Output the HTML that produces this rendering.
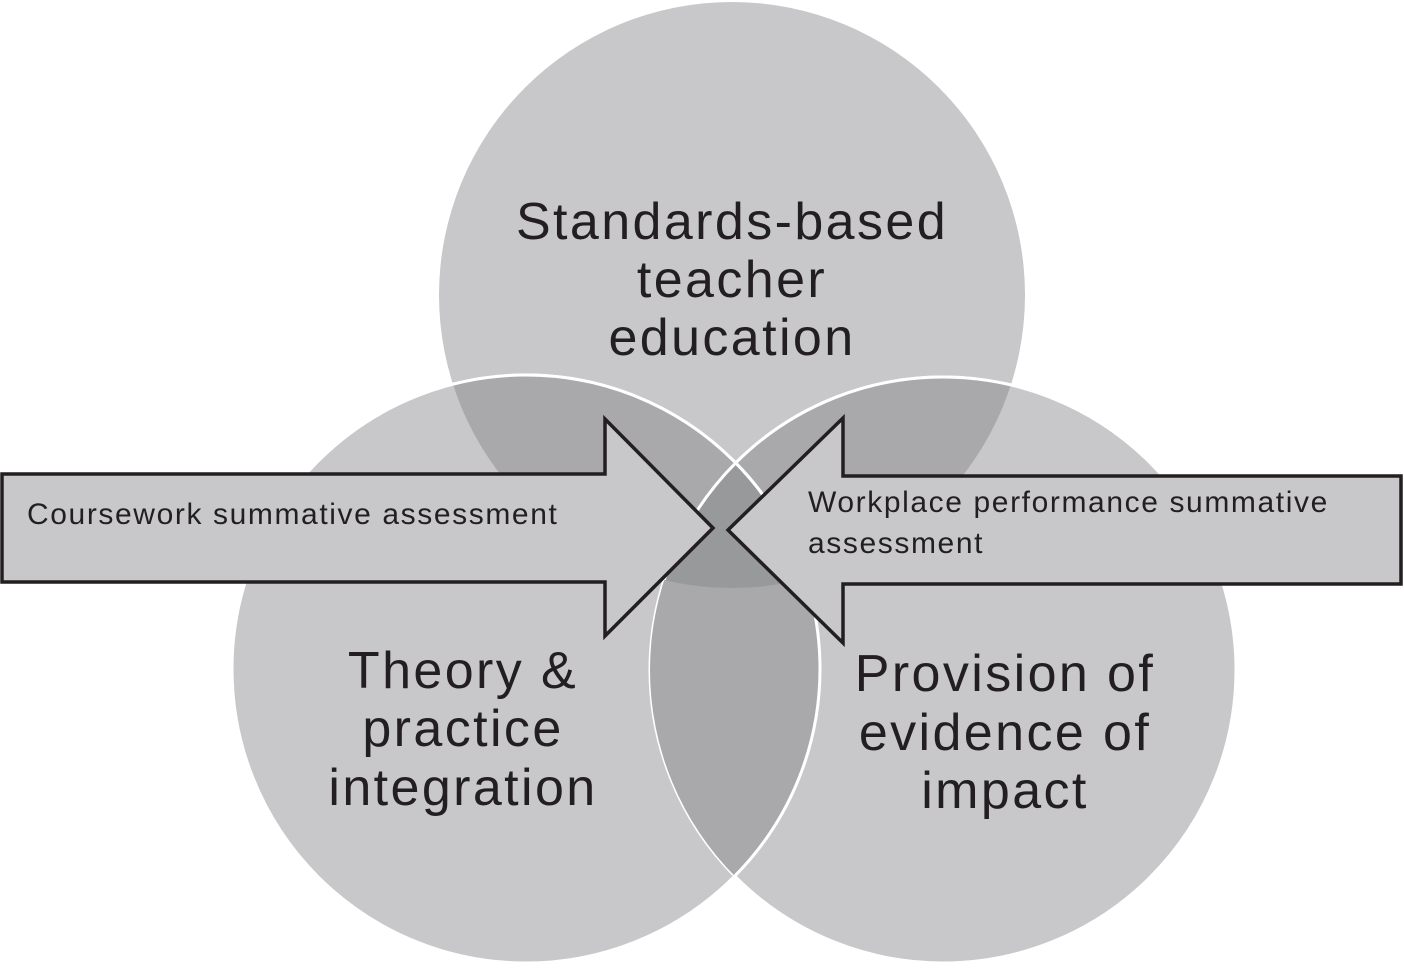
<!DOCTYPE html>
<html><head><style>html,body{margin:0;padding:0;background:#fff;width:1404px;height:970px;overflow:hidden}</style></head>
<body>
<svg width="1404" height="970" viewBox="0 0 1404 970" xmlns="http://www.w3.org/2000/svg" font-family="Liberation Sans, sans-serif">
<defs>
<clipPath id="cT"><circle cx="732" cy="295" r="293"/></clipPath>
<clipPath id="cL"><circle cx="526" cy="669" r="294"/></clipPath>
<clipPath id="cR"><circle cx="943" cy="670" r="293"/></clipPath>
</defs>
<circle cx="732" cy="295" r="293" fill="#c8c8ca"/>
<circle cx="526" cy="669" r="294" fill="#c8c8ca" stroke="#fff" stroke-width="3"/>
<circle cx="943" cy="670" r="293" fill="#c8c8ca" stroke="#fff" stroke-width="3"/>
<g clip-path="url(#cT)"><circle cx="526" cy="669" r="294" fill="#a9a9ab"/><circle cx="943" cy="670" r="293" fill="#a9a9ab"/></g>
<g clip-path="url(#cL)"><circle cx="943" cy="670" r="293" fill="#a9a9ab"/></g>
<g clip-path="url(#cT)"><g clip-path="url(#cL)"><circle cx="943" cy="670" r="293" fill="#98999b"/></g></g>
<g clip-path="url(#cT)"><circle cx="526" cy="669" r="294" fill="none" stroke="#fff" stroke-width="3"/><circle cx="943" cy="670" r="293" fill="none" stroke="#fff" stroke-width="3"/></g>
<g clip-path="url(#cR)"><circle cx="526" cy="669" r="294" fill="none" stroke="#fff" stroke-width="3"/></g>
<polygon points="2,474 605,474 605,419 713,528 605,636 605,582 2,582" fill="#c8c8ca" stroke="#231f20" stroke-width="3.5" stroke-linejoin="miter"/>
<polygon points="1401,476 843,476 843,418 728,530 843,643 843,584 1401,584" fill="#c8c8ca" stroke="#231f20" stroke-width="3.5" stroke-linejoin="miter"/>
<g fill="#231f20" font-size="52" letter-spacing="2.4" text-anchor="middle">
<text x="732" y="239">Standards-based</text>
<text x="732" y="297">teacher</text>
<text x="732" y="355">education</text>
<text x="463" y="688">Theory &amp;</text>
<text x="463" y="746">practice</text>
<text x="463" y="805">integration</text>
<text x="1005" y="691">Provision of</text>
<text x="1005" y="750">evidence of</text>
<text x="1005" y="808">impact</text>
</g>
<g fill="#231f20" font-size="30" letter-spacing="1.6">
<text x="27" y="524">Coursework summative assessment</text>
<text x="808" y="512">Workplace performance summative</text>
<text x="808" y="553">assessment</text>
</g>
</svg>
</body></html>
